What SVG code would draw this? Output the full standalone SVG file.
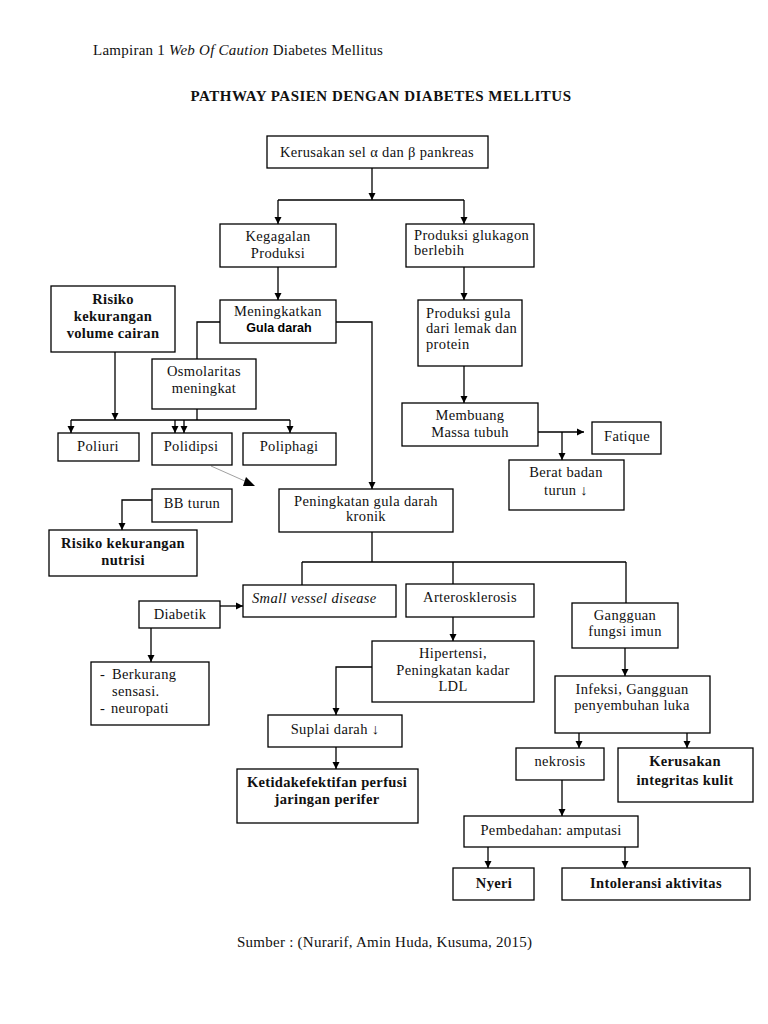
<svg xmlns="http://www.w3.org/2000/svg" width="768" height="1024" viewBox="0 0 768 1024">
<defs>
<marker id="ah" markerUnits="userSpaceOnUse" markerWidth="8" markerHeight="8" refX="7" refY="4" orient="auto">
<path d="M0,0.5 L7,4 L0,7.5 z" fill="#000"/>
</marker>
<style>
.b{fill:#fff;stroke:#000;stroke-width:1.3}
.t{font-family:"Liberation Serif","Times New Roman",serif;font-size:14.5px;letter-spacing:0.35px;fill:#111}
.h{font-size:15px;letter-spacing:0.25px}
.bd{font-weight:bold}
.c{text-anchor:middle}
.s{font-family:"Liberation Sans",Arial,sans-serif;font-weight:bold;font-size:12.5px;letter-spacing:0}
.l{fill:none;stroke:#000;stroke-width:1.3}
.a{marker-end:url(#ah)}
.g{fill:none;stroke:#888;stroke-width:0.8}
</style>
</defs>
<rect width="768" height="1024" fill="#fff"/>
<text class="t h" x="93" y="55">Lampiran 1 <tspan font-style="italic">Web Of Caution</tspan> Diabetes Mellitus</text>
<text class="t bd c" x="381" y="101" style="font-size:15px;letter-spacing:0.5px">PATHWAY PASIEN DENGAN DIABETES MELLITUS</text>

<g id="connectors">
<path class="l a" d="M372,168 V200"/>
<path class="l" d="M278,200 H464"/>
<path class="l a" d="M278,200 V224"/>
<path class="l a" d="M464,200 V224"/>
<path class="l a" d="M278,267 V300"/>
<path class="l" d="M220,322 H197 V359"/>
<path class="l a" d="M336,322 H372 V489"/>
<path class="l" d="M197,409 V420 M71,420 H290"/>
<path class="l a" d="M71,420 V433"/>
<path class="l a" d="M175,420 V433"/>
<path class="l a" d="M184,420 V433"/>
<path class="l a" d="M290,420 V433"/>
<path class="l a" d="M115,352 V420"/>
<path class="g" d="M211,466 L247,482"/>
<path d="M246,477 L255,486 L243,486 z" fill="#000"/>
<path class="l a" d="M152,500 H122 V530"/>
<path class="l" d="M372,532 V562 M302,562 H626 M302,562 V585 M453,562 V584 M626,562 V603"/>
<path class="l a" d="M220,606 H243"/>
<path class="l a" d="M151,628 V662"/>
<path class="l a" d="M453,617 V641"/>
<path class="l a" d="M372,667 H336 V715"/>
<path class="l a" d="M336,747 V769"/>
<path class="l a" d="M625,648 V676"/>
<path class="l a" d="M579,733 V748"/>
<path class="l a" d="M687,733 V748"/>
<path class="l a" d="M562,780 V816"/>
<path class="l a" d="M488,847 V868"/>
<path class="l a" d="M625,847 V868"/>
<path class="l a" d="M464,267 V300"/>
<path class="l a" d="M464,366 V403"/>
<path class="l a" d="M538,432 H584"/>
<path class="l a" d="M562,432 V460"/>
</g>

<g id="n-kerusakan"><rect class="b" x="267" y="136" width="221" height="32"/><text class="t c" x="377" y="157">Kerusakan sel α dan β pankreas</text></g>
<g id="n-kegagalan"><rect class="b" x="220" y="224" width="116" height="43"/><text class="t c" x="278" y="241">Kegagalan</text><text class="t c" x="278" y="258">Produksi</text></g>
<g id="n-glukagon"><rect class="b" x="406" y="224" width="128" height="43"/><text class="t" x="414" y="240">Produksi glukagon</text><text class="t" x="414" y="255">berlebih</text></g>
<g id="n-meningkatkan"><rect class="b" x="220" y="300" width="116" height="43"/><text class="t c" x="278" y="316">Meningkatkan</text><text class="s c" x="279" y="332">Gula darah</text></g>
<g id="n-risiko-cairan"><rect class="b" x="51" y="286" width="124" height="66"/><text class="t bd c" x="113" y="304">Risiko</text><text class="t bd c" x="113" y="321">kekurangan</text><text class="t bd c" x="113" y="338">volume cairan</text></g>
<g id="n-osmolaritas"><rect class="b" x="152" y="359" width="104" height="50"/><text class="t c" x="204" y="376">Osmolaritas</text><text class="t c" x="204" y="393">meningkat</text></g>
<g id="n-poliuri"><rect class="b" x="58" y="433" width="81" height="28"/><text class="t c" x="98" y="451">Poliuri</text></g>
<g id="n-polidipsi"><rect class="b" x="152" y="433" width="80" height="32"/><text class="t c" x="191" y="451">Polidipsi</text></g>
<g id="n-poliphagi"><rect class="b" x="243" y="433" width="93" height="32"/><text class="t c" x="289" y="451">Poliphagi</text></g>
<g id="n-produksi-gula"><rect class="b" x="418" y="300" width="104" height="66"/><text class="t" x="426" y="318">Produksi gula</text><text class="t" x="426" y="333">dari lemak dan</text><text class="t" x="426" y="349">protein</text></g>
<g id="n-membuang"><rect class="b" x="402" y="403" width="136" height="43"/><text class="t c" x="470" y="420">Membuang</text><text class="t c" x="470" y="437">Massa tubuh</text></g>
<g id="n-fatique"><rect class="b" x="592" y="422" width="69" height="32"/><text class="t c" x="627" y="441">Fatique</text></g>
<g id="n-berat"><rect class="b" x="509" y="460" width="115" height="50"/><text class="t c" x="566" y="477">Berat badan</text><text class="t c" x="566" y="495">turun ↓</text></g>
<g id="n-peningkatan"><rect class="b" x="279" y="489" width="174" height="43"/><text class="t c" x="366" y="506">Peningkatan gula darah</text><text class="t c" x="366" y="521">kronik</text></g>
<g id="n-bbturun"><rect class="b" x="152" y="489" width="80" height="33"/><text class="t c" x="192" y="508">BB turun</text></g>
<g id="n-risiko-nutrisi"><rect class="b" x="49" y="530" width="148" height="46"/><text class="t bd c" x="123" y="548">Risiko kekurangan</text><text class="t bd c" x="123" y="565">nutrisi</text></g>
<g id="n-small"><rect class="b" x="243" y="585" width="153" height="32"/><text class="t" x="252" y="603" font-style="italic">Small vessel disease</text></g>
<g id="n-arteros"><rect class="b" x="406" y="584" width="128" height="33"/><text class="t c" x="470" y="602">Arterosklerosis</text></g>
<g id="n-diabetik"><rect class="b" x="139" y="601" width="81" height="27"/><text class="t c" x="180" y="619">Diabetik</text></g>
<g id="n-berkurang"><rect class="b" x="91" y="662" width="118" height="63"/><text class="t" y="679"><tspan x="100">-</tspan><tspan x="112">Berkurang</tspan></text><text class="t" x="112" y="696">sensasi.</text><text class="t" y="713"><tspan x="100">-</tspan><tspan x="111">neuropati</tspan></text></g>
<g id="n-hipertensi"><rect class="b" x="372" y="641" width="162" height="61"/><text class="t c" x="453" y="658">Hipertensi,</text><text class="t c" x="453" y="675">Peningkatan kadar</text><text class="t c" x="453" y="691">LDL</text></g>
<g id="n-suplai"><rect class="b" x="268" y="715" width="134" height="32"/><text class="t c" x="335" y="734">Suplai darah ↓</text></g>
<g id="n-ketidak"><rect class="b" x="237" y="769" width="181" height="54"/><text class="t bd c" x="327" y="787">Ketidakefektifan perfusi</text><text class="t bd c" x="327" y="804">jaringan perifer</text></g>
<g id="n-gangguan"><rect class="b" x="572" y="603" width="106" height="45"/><text class="t c" x="625" y="620">Gangguan</text><text class="t c" x="625" y="636">fungsi imun</text></g>
<g id="n-infeksi"><rect class="b" x="555" y="676" width="155" height="57"/><text class="t c" x="632" y="694">Infeksi, Gangguan</text><text class="t c" x="632" y="710">penyembuhan luka</text></g>
<g id="n-nekrosis"><rect class="b" x="516" y="748" width="88" height="32"/><text class="t c" x="560" y="766">nekrosis</text></g>
<g id="n-kerusakan-kulit"><rect class="b" x="618" y="748" width="135" height="54"/><text class="t bd c" x="685" y="766">Kerusakan</text><text class="t bd c" x="685" y="785">integritas kulit</text></g>
<g id="n-pembedahan"><rect class="b" x="464" y="816" width="174" height="31"/><text class="t c" x="551" y="835">Pembedahan: amputasi</text></g>
<g id="n-nyeri"><rect class="b" x="453" y="868" width="81" height="32"/><text class="t bd c" x="494" y="888">Nyeri</text></g>
<g id="n-intoleransi"><rect class="b" x="562" y="868" width="188" height="32"/><text class="t bd c" x="656" y="888">Intoleransi aktivitas</text></g>

<text class="t h" x="237" y="947">Sumber : (Nurarif, Amin Huda, Kusuma, 2015)</text>
</svg>
